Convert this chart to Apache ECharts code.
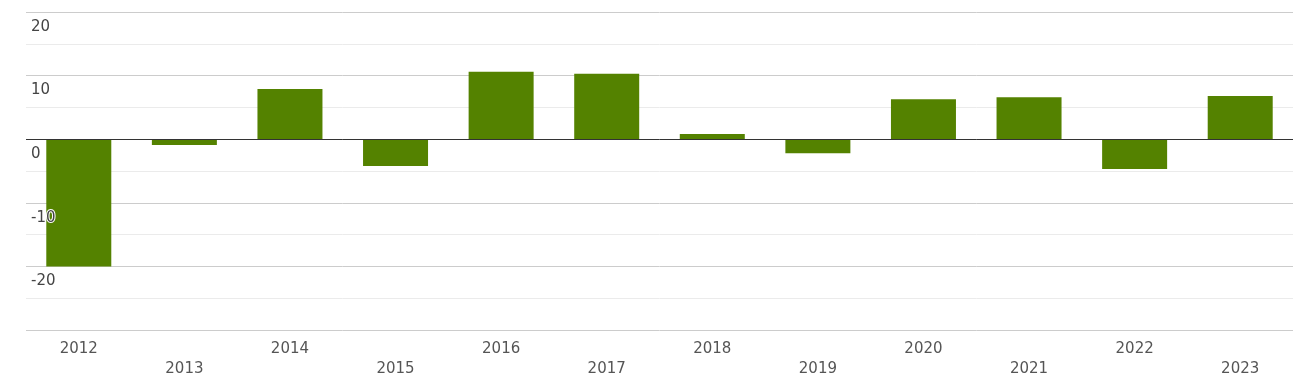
<!DOCTYPE html>
<html>
<head>
<meta charset="utf-8">
<script src="https://cdn.jsdelivr.net/npm/echarts@6/dist/echarts.min.js"></script>
<style>
html,body{margin:0;padding:0;background:#fff;}
#chart{width:1293px;height:384px;}
</style>
</head>
<body>
<div id="chart"></div>
<script>
var years = ['2012','2013','2014','2015','2016','2017','2018','2019','2020','2021','2022','2023'];
var values = [-20.0, -0.9, 7.9, -4.2, 10.6, 10.3, 0.8, -2.2, 6.3, 6.6, -4.7, 6.8];
var yTicks = { min: -30, max: 20, interval: 10 };

var chart = echarts.init(document.getElementById('chart'));
chart.setOption({
  animation: false,
  grid: { left: 26, right: 0, top: 12, bottom: 54, containLabel: false },
  xAxis: {
    type: 'category',
    data: years,
    axisLine: { show: false, onZero: false },
    axisTick: { show: false },
    axisLabel: {
      interval: 0,
      margin: 9,
      fontFamily: 'DejaVu Sans',
      fontSize: 15,
      lineHeight: 20,
      color: '#555',
      formatter: function (v, i) { return i % 2 === 1 ? '\n' + v : v; }
    }
  },
  yAxis: [{
    type: 'value',
    min: yTicks.min, max: yTicks.max, interval: yTicks.interval,
    axisLine: { show: false },
    axisTick: { show: false },
    axisLabel: { show: false },
    splitLine: { show: true, lineStyle: { color: '#cccccc', width: 1 } },
    minorTick: { show: false, splitNumber: 2 },
    minorSplitLine: { show: true, lineStyle: { color: '#ebebeb', width: 1 } }
  }, {
    type: 'value',
    position: 'left',
    min: yTicks.min, max: yTicks.max, interval: yTicks.interval,
    z: 10,
    axisLine: { show: false },
    axisTick: { show: false },
    splitLine: { show: false },
    axisLabel: {
      inside: true,
      margin: 5,
      fontFamily: 'DejaVu Sans',
      fontSize: 15,
      color: '#444',
      verticalAlign: 'top',
      lineHeight: 16,
      padding: [7, 0, 0, 0],
      textBorderColor: '#fff',
      textBorderWidth: 2,
      formatter: function (v) { return v === -30 ? '' : String(v); }
    }
  }],
  series: [{
    type: 'bar',
    yAxisIndex: 0,
    data: values,
    barWidth: 65,
    itemStyle: { color: '#548200' },
    markLine: {
      silent: true,
      symbol: 'none',
      label: { show: false },
      lineStyle: { color: '#333', width: 1, type: 'solid' },
      data: [{ yAxis: 0 }]
    }
  }]
});
</script>
</body>
</html>
